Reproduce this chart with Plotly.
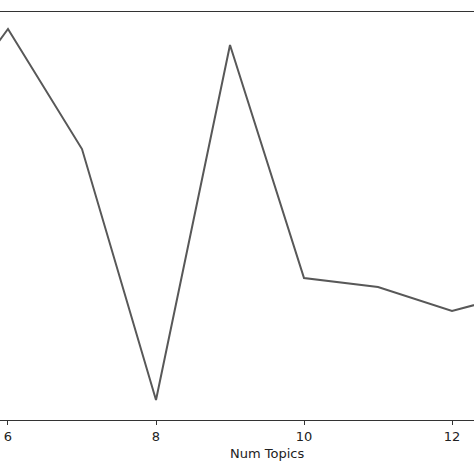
import plotly.graph_objects as go

num_topics = [5, 6, 7, 8, 9, 10, 11, 12, 13]
coherence = [0.4422, 0.4917, 0.4328, 0.3098, 0.4838, 0.3696, 0.3652, 0.3534, 0.3632]
x_ticks = [6, 8, 10, 12]
x_title = "Num Topics"

fig = go.Figure(go.Scatter(
    x=num_topics, y=coherence, mode="lines",
    line=dict(color="#585858", width=2), cliponaxis=True,
))

fig.update_layout(
    width=474, height=474,
    margin=dict(l=0, r=0, t=12, b=54),
    paper_bgcolor="white", plot_bgcolor="white",
    showlegend=False,
    font=dict(family="DejaVu Sans", size=13, color="#222"),
    xaxis=dict(
        range=[5.892, 12.297], tickvals=x_ticks, ticktext=[str(v) for v in x_ticks],
        showgrid=False, zeroline=False,
        showline=True, linecolor="#333", linewidth=1.3, mirror=True,
        ticks="outside", ticklen=4, tickwidth=1.2, tickcolor="#333",
        tickfont=dict(size=13, color="#222"),
    ),
    yaxis=dict(
        range=[0.30, 0.50], visible=False, showgrid=False, zeroline=False,
    ),
    annotations=[dict(
        text=x_title, x=9.5, xref="x", y=-0.0833, yref="paper",
        xanchor="center", yanchor="middle", showarrow=False,
        font=dict(size=13, color="#222"),
    )],
)

fig.write_html(
    "out.html",
    config={"displayModeBar": False},
    post_script="document.body.style.margin='0';document.body.style.padding='0';",
)
